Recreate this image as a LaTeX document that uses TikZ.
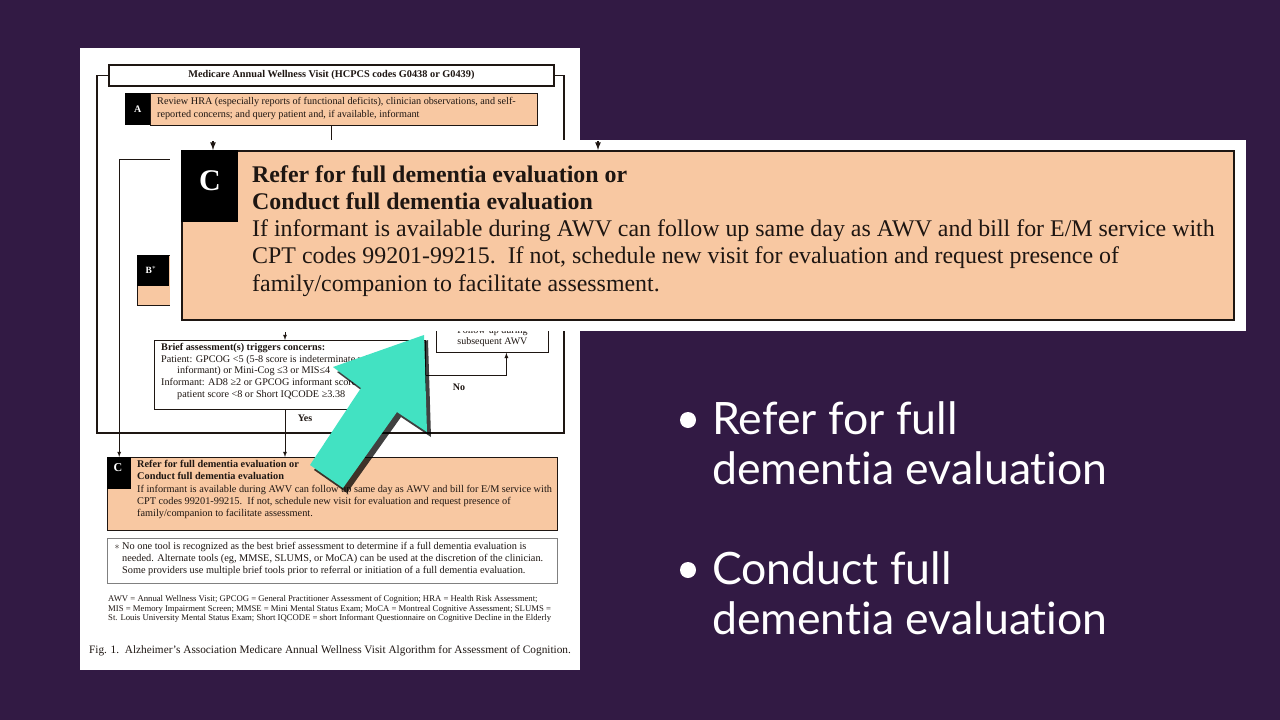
\documentclass[tikz,border=0pt]{standalone}
\usepackage{fontspec}
\setmainfont{Liberation Serif}
\newfontfamily\diapo[Ligatures=NoCommon]{Lato}
\usetikzlibrary{positioning,calc}
\definecolor{violetfond}{RGB}{50,26,68}
\definecolor{peau}{RGB}{248,200,162}
\definecolor{turquoise}{RGB}{66,226,194}
\definecolor{encre}{RGB}{30,22,18}

\begin{document}
\begin{tikzpicture}[
    x=1pt, y=-1pt,
    every node/.style={inner sep=0pt, text=encre},
    boite/.style={draw=encre, fill=peau, line width=0.8pt, anchor=north west},
    cadre/.style={draw=encre, fill=white, line width=0.8pt, anchor=north west},
    carre/.style={fill=black, anchor=north west},
    lettre/.style={text=white},
    trait/.style={draw=encre, line width=0.8pt},
    fleche/.style={trait, -latex},
    gros/.style={line width=1.8pt},
    texte/.style={anchor=north west, align=left},
    puce/.style={circle, fill=white, minimum size=16pt},
    ligne/.style={anchor=base west, text=white, font=\diapo\fontsize{44.6}{50}\selectfont},
]
\useasboundingbox (0,0) rectangle (1280,720);

% Fond et page
\fill[violetfond] (0,0) rectangle (1280,720);
\fill[white] (80,48) rectangle (580,670);

% Titre et grand cadre
\node[cadre, gros, minimum width=445pt, minimum height=21pt,
      font=\bfseries\fontsize{10.3}{11}\selectfont] (titre) at (108,64)
      {Medicare Annual Wellness Visit (HCPCS codes G0438 or G0439)};
\draw[trait, gros] (titre.west) -| (97,433) -- (564,433) |- (titre.east);

% Etape A
\node[boite, minimum width=387pt, minimum height=32pt] (a) at (150,93) {};
\node[carre, minimum width=25pt, minimum height=32pt] (acarre) at (125,93) {};
\node[lettre, font=\bfseries\fontsize{10}{10}\selectfont] (alettre) at (acarre.center) {A};
\node[texte, font=\fontsize{10.2}{12.8}\selectfont] (atxt) at (157,97)
    {Review HRA (especially reports of functional deficits), clinician observations, and self-\\
     reported concerns; and query patient and, if available, informant};
\coordinate (asous) at (331,141);
\draw[trait] (asous |- a.south) -- (asous);

% Etape B
\node[boite, minimum width=300pt, minimum height=50pt] (b) at (137,255) {};
\node[carre, minimum width=32pt, minimum height=31pt] (bcarre) at (137,255) {};
\node[lettre, font=\bfseries\fontsize{9.5}{9.5}\selectfont] (blettre) at (151,270) {B$^{\ast}$};

% Evaluation breve
\node[cadre, minimum width=271pt, minimum height=69pt] (bref) at (154,340) {};
\node[texte, font=\fontsize{10.2}{11.8}\selectfont] (breftxt) at (161,343)
    {\textbf{Brief assessment(s) triggers concerns:}\\
     Patient: GPCOG <5 (5-8 score is indeterminate without\\
     \hspace*{16pt}informant) or Mini-Cog ≤3 or MIS≤4\\
     Informant: AD8 ≥2 or GPCOG informant score ≤3 with\\
     \hspace*{16pt}patient score <8 or Short IQCODE ≥3.38};
\node[cadre, minimum width=112pt, minimum height=31pt, align=center,
      font=\fontsize{10}{11}\selectfont] (suivi) at (436,321)
    {Follow-up during\\subsequent AWV};

% Etape C
\node[boite, minimum width=450pt, minimum height=73pt] (cbas) at (107,457) {};
\node[carre, minimum width=24pt, minimum height=32pt] (ccarre) at (107,457) {};
\node[lettre, font=\bfseries\fontsize{12}{12}\selectfont] (clettre) at (118,468) {C};
\node[texte, font=\fontsize{10.3}{12.3}\selectfont] (ctxt) at (137,460)
    {\textbf{Refer for full dementia evaluation or}\\
     \textbf{Conduct full dementia evaluation}\\
     If informant is available during AWV can follow up same day as AWV and bill for E/M service with\\
     CPT codes 99201-99215.\ \ If not, schedule new visit for evaluation and request presence of\\
     family/companion to facilitate assessment.};

% Liaisons
\coordinate (boucle) at (200,159);
\coordinate (bhaut) at (285,332);
\draw[fleche] (boucle) -| (ccarre.north);
\draw[fleche] (bhaut) -- (bhaut |- bref.north);
\draw[fleche] (bref.south -| bhaut) -- (bhaut |- cbas.north);
\draw[fleche] (bref.east) -| ([xshift=14pt]suivi.south);
\node[font=\bfseries\fontsize{10}{10}\selectfont] (oui) at (305,418) {Yes};
\node[font=\bfseries\fontsize{10}{10}\selectfont] (non) at (459,387) {No};

% Note et abreviations
\node[draw=gray, line width=0.8pt, minimum width=450pt, minimum height=45pt,
      anchor=north west] (note) at (107,538) {};
\node[texte, font=\fontsize{10.3}{12}\selectfont] (notetxt) at (122,542)
    {\llap{$\ast$\ }No one tool is recognized as the best brief assessment to determine if a full dementia evaluation is\\
     needed. Alternate tools (eg, MMSE, SLUMS, or MoCA) can be used at the discretion of the clinician.\\
     Some providers use multiple brief tools prior to referral or initiation of a full dementia evaluation.};
\node[texte, font=\fontsize{8.7}{9.8}\selectfont] (abrev) at (108,595)
    {AWV = Annual Wellness Visit; GPCOG = General Practitioner Assessment of Cognition; HRA = Health Risk Assessment;\\
     MIS = Memory Impairment Screen; MMSE = Mini Mental Status Exam; MoCA = Montreal Cognitive Assessment; SLUMS =\\
     St. Louis University Mental Status Exam; Short IQCODE = short Informant Questionnaire on Cognitive Decline in the Elderly};
\node[font=\fontsize{11.3}{12}\selectfont] (legende) at (330,651)
    {Fig. 1.\ \ Alzheimer’s Association Medicare Annual Wellness Visit Algorithm for Assessment of Cognition.};

% Loupe sur l'etape C
\node[fill=white, minimum width=1076pt, minimum height=191pt, anchor=north west] (loupe) at (170,140) {};
\node[boite, line width=2.2pt, minimum width=1052pt, minimum height=169pt] (cgrand) at (181,150) {};
\node[carre, minimum width=57pt, minimum height=72pt] (cgcarre) at (181,150) {};
\node[lettre, font=\bfseries\fontsize{30}{30}\selectfont] (cglettre) at (210,181) {C};
\node[texte, font=\fontsize{23.9}{27.3}\selectfont] (cgtxt) at (252,165)
    {\textbf{Refer for full dementia evaluation or}\\
     \textbf{Conduct full dementia evaluation}\\
     If informant is available during AWV can follow up same day as AWV and bill for E/M service with\\
     CPT codes 99201-99215.\ \ If not, schedule new visit for evaluation and request presence of\\
     family/companion to facilitate assessment.};
\coordinate (fl1) at (213,141);
\coordinate (fl2) at (598,141);
\draw[fleche, line width=1.6pt] (fl1) -- (fl1 |- cgrand.north);
\draw[fleche, line width=1.6pt] (fl2) -- (fl2 |- cgrand.north);

% Grande fleche
\fill[black, opacity=0.75, shift={(4,5)}] (424,335) -- (333,367) -- (361,388) -- (310,465)
    -- (343,488) -- (397,412) -- (427,432) -- cycle;
\fill[turquoise] (424,335) -- (333,367) -- (361,388) -- (310,465)
    -- (343,488) -- (397,412) -- (427,432) -- cycle;

% Points de la diapo
\node[puce] (p1) at (688,420) {};
\node[ligne] (r1) at (712,434) {Refer for full};
\node[ligne] (r2) at (712,484) {dementia evaluation};
\node[puce] (p2) at (688,570) {};
\node[ligne] (r3) at (712,584) {Conduct full};
\node[ligne] (r4) at (712,634) {dementia evaluation};

\end{tikzpicture}
\end{document}
